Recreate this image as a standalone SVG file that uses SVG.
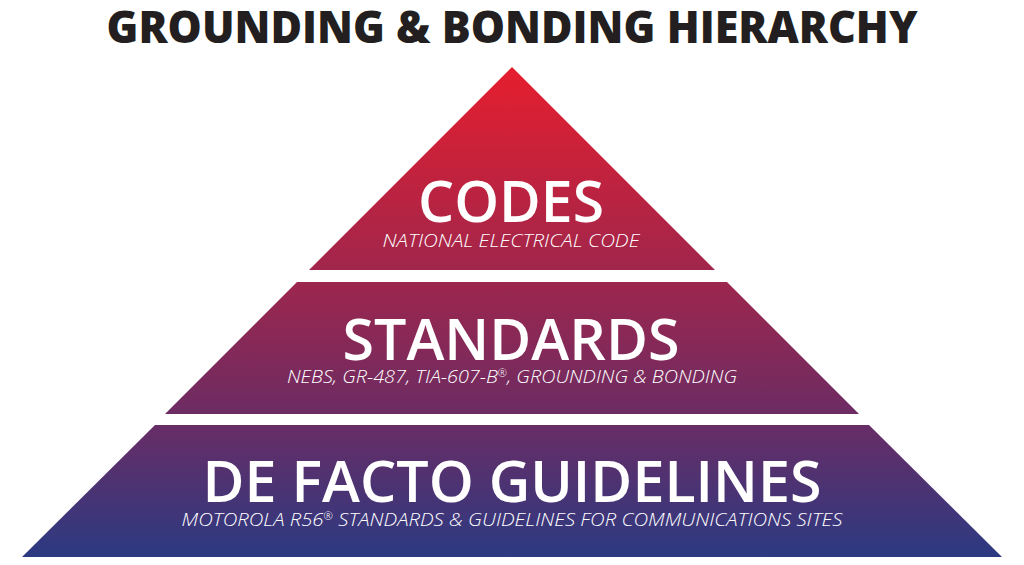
<svg xmlns="http://www.w3.org/2000/svg" width="1024" height="565" viewBox="0 0 1024 565">
<defs>
<linearGradient id="pg" gradientUnits="userSpaceOnUse" x1="0" y1="67" x2="0" y2="557">
<stop offset="0" stop-color="#e61e2e"/>
<stop offset="0.42" stop-color="#a0264c"/>
<stop offset="0.72" stop-color="#6a2c64"/>
<stop offset="1" stop-color="#2c3a82"/>
</linearGradient>
<style>
.tier{fill:url(#pg);}
.big{font-family:"Open Sans","Noto Sans",sans-serif;font-weight:600;fill:#ffffff;text-anchor:middle;}
.sub{font-family:"Open Sans","Noto Sans",sans-serif;font-weight:300;font-style:italic;fill:#ffffff;text-anchor:middle;}
.title{font-family:"Open Sans","Noto Sans",sans-serif;font-weight:800;fill:#231f20;text-anchor:middle;}
.reg{font-size:10px;}
</style>
</defs>
<rect width="1024" height="565" fill="#ffffff"/>
<text id="title" class="title" x="512" y="43" font-size="45" textLength="811" lengthAdjust="spacingAndGlyphs">GROUNDING &amp; BONDING HIERARCHY</text>
<g id="codes">
<polygon class="tier" points="512,67 715,270 309,270"/>
<text class="big" x="511" y="222" font-size="58" textLength="186" lengthAdjust="spacingAndGlyphs">CODES</text>
<text class="sub" x="511" y="247" font-size="18" textLength="257" lengthAdjust="spacingAndGlyphs">NATIONAL ELECTRICAL CODE</text>
</g>
<g id="standards">
<polygon class="tier" points="297,282 727,282 859,414 165,414"/>
<text class="big" x="511" y="360" font-size="58" textLength="337" lengthAdjust="spacingAndGlyphs">STANDARDS</text>
<text class="sub" x="512" y="383" font-size="18" textLength="450" lengthAdjust="spacingAndGlyphs">NEBS, GR-487, TIA-607-B<tspan class="reg" dy="-6">®</tspan><tspan dy="6">, GROUNDING &amp; BONDING</tspan></text>
</g>
<g id="defacto">
<polygon class="tier" points="155,425 869,425 1002,557 22,557"/>
<text class="big" x="512" y="502" font-size="58" textLength="619" lengthAdjust="spacingAndGlyphs">DE FACTO GUIDELINES</text>
<text class="sub" x="512" y="526" font-size="18" textLength="661" lengthAdjust="spacingAndGlyphs">MOTOROLA R56<tspan class="reg" dy="-6">®</tspan><tspan dy="6"> STANDARDS &amp; GUIDELINES FOR COMMUNICATIONS SITES</tspan></text>
</g>
</svg>
